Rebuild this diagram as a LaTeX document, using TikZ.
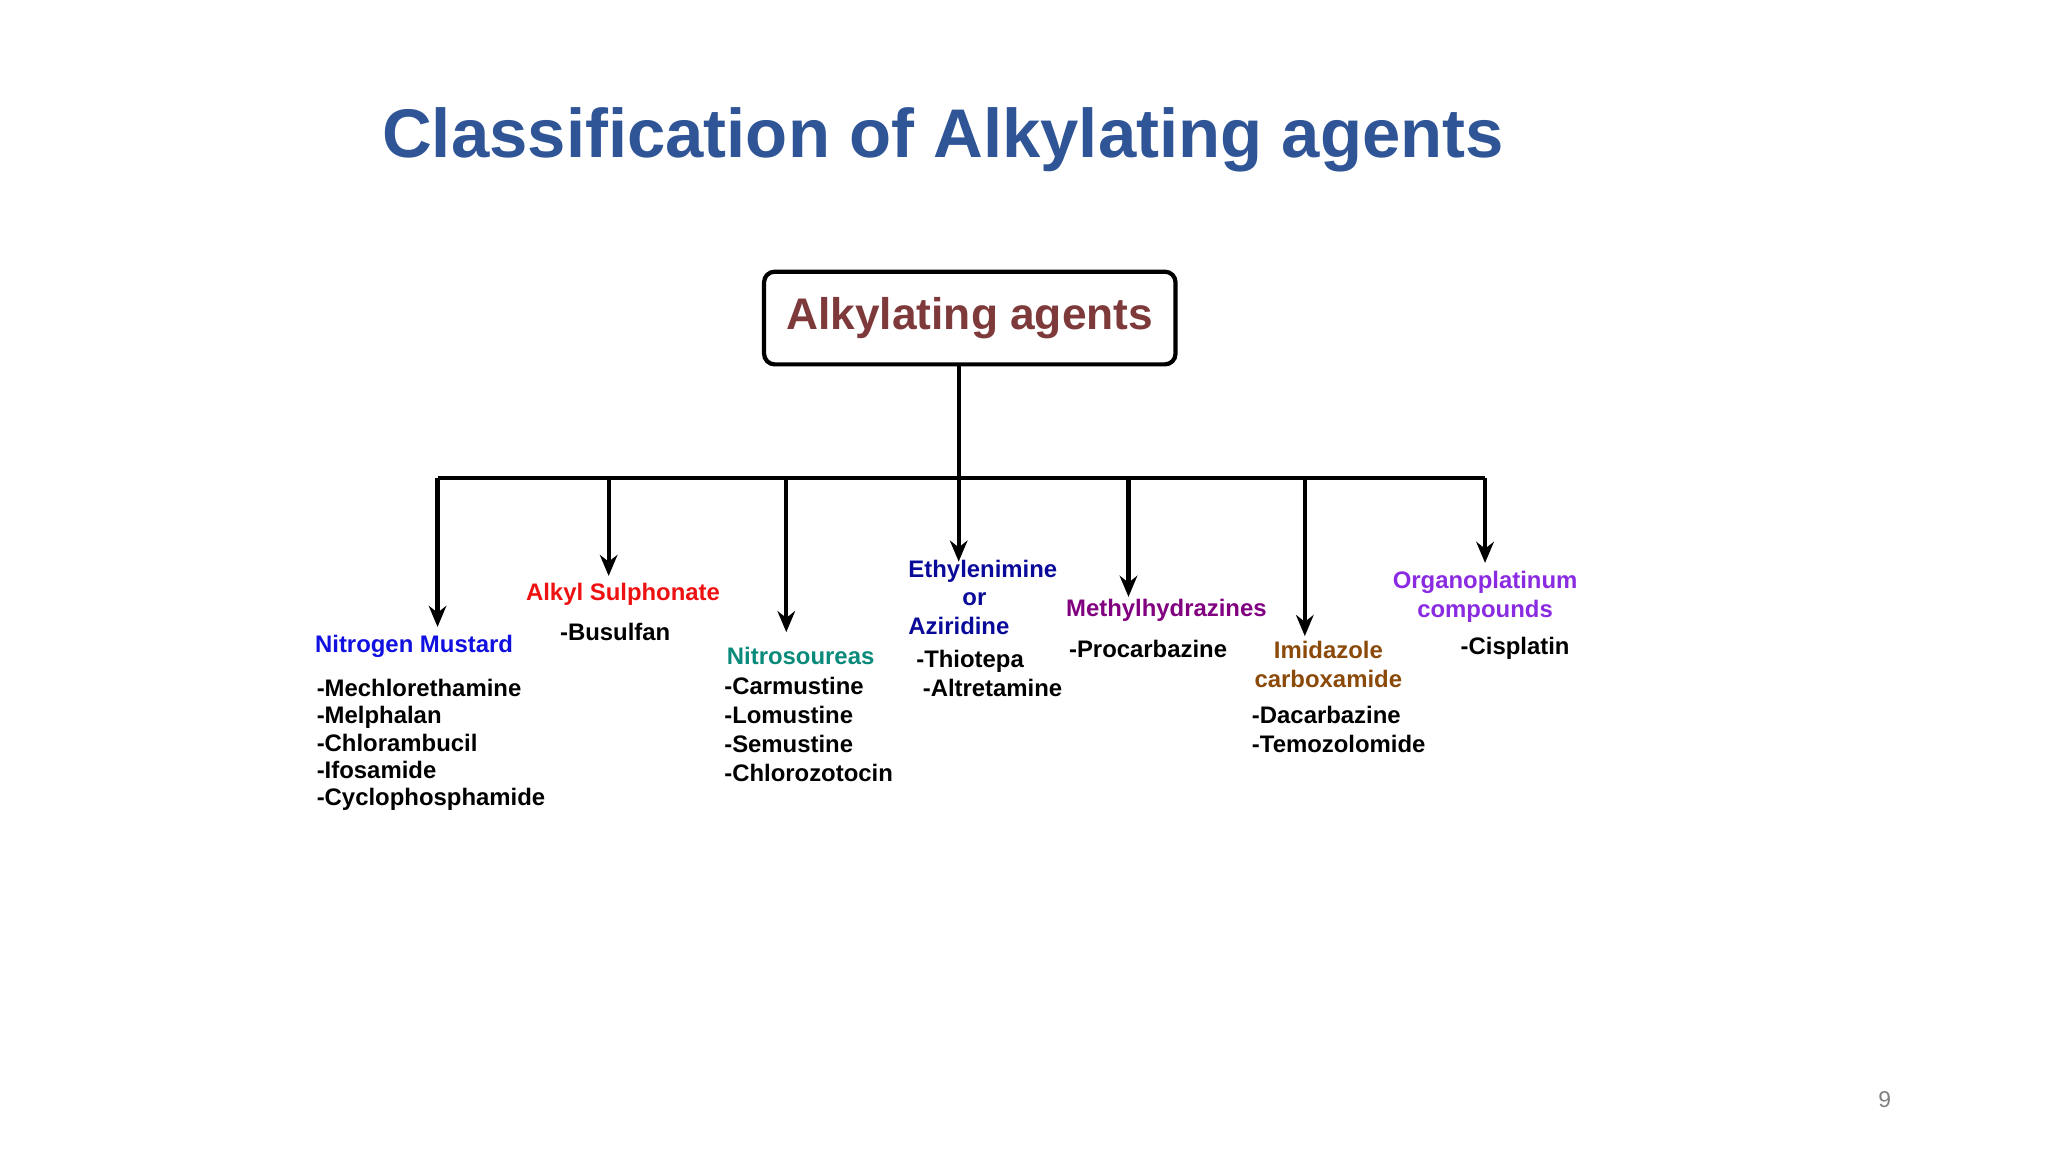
\documentclass[tikz,border=0pt]{standalone}
\usepackage{fontspec}
\setmainfont{Liberation Sans}
\usetikzlibrary{arrows.meta}
\definecolor{titleblue}{HTML}{2F5597}
\definecolor{boxtxt}{HTML}{7E3A3A}
\definecolor{nmblue}{HTML}{1010E0}
\definecolor{asred}{HTML}{EE1111}
\definecolor{nteal}{HTML}{0A8A7A}
\definecolor{enavy}{HTML}{0A0A9A}
\definecolor{mpurple}{HTML}{800080}
\definecolor{ibrown}{HTML}{8B4A0A}
\definecolor{oviolet}{HTML}{8A2BE2}
\begin{document}
\begin{tikzpicture}[x=0.013061cm,y=-0.013061cm,
  cat/.style={font=\fontsize{6.8}{8.2}\selectfont\bfseries,inner sep=0pt,align=center},
  item/.style={font=\fontsize{6.8}{8.2}\selectfont\bfseries,inner sep=0pt,anchor=base west},
  conn/.style={line width=1.2pt},
  arr/.style={line width=1.2pt,-{Stealth[length=6pt,width=5pt]}}]
\useasboundingbox (0,0) rectangle (1568,882);
\node[font=\fontsize{19.6}{24}\selectfont\bfseries,text=titleblue,inner sep=0pt] (title) at (722,107) {Classification of Alkylating agents};
\node[draw,line width=1.2pt,rounded corners=3pt,minimum width=4.114cm,minimum height=0.927cm,inner sep=0pt,
  text=boxtxt,font=\fontsize{12.6}{15}\selectfont\bfseries] (root) at (742.5,243.5)
  {Alkylating agents};
\coordinate (j) at (734,366);
\coordinate (l) at (335,366);
\coordinate (r) at (1137,366);
\draw[conn] (root.south -| j) -- (j);
\draw[conn] (l) -- (r);
\foreach \x/\y/\n in {335/480/a,466/441/b,602/484/c,734/430/d,864/457/e,999/487/f,1137/431/g}{
  \coordinate (t\n) at (\x,366); \coordinate (e\n) at (\x,\y);
  \draw[arr] (t\n) -- (e\n);}
% categories
\node[cat,text=nmblue] (nm) at (317,495) {Nitrogen Mustard};
\foreach \t [count=\i from 0] in {Mechlorethamine,Melphalan,Chlorambucil,Ifosamide,Cyclophosphamide}
  \node[item] (nm\i) at (242,533+21*\i) {-\t};
\node[cat,text=asred] (as) at (477,455) {Alkyl Sulphonate};
\node[cat] (bu) at (471,484) {-Busulfan};
\node[cat,text=nteal] (ns) at (613,502) {Nitrosoureas};
\foreach \t [count=\i from 0] in {Carmustine,Lomustine,Semustine,Chlorozotocin}
  \node[item] (ns\i) at (554,532+22*\i) {-\t};
\node[item,text=enavy] (et) at (695,442) {Ethylenimine};
\node[cat,text=enavy] (or) at (746,459) {or};
\node[item,text=enavy] (az) at (695,486) {Aziridine};
\node[item] (th) at (701,511) {-Thiotepa};
\node[item] (al) at (706,533) {-Altretamine};
\node[cat,text=mpurple] (mh) at (893,467) {Methylhydrazines};
\node[cat] (pc) at (879,497) {-Procarbazine};
\node[cat,text=ibrown] (im) at (1017,509) {Imidazole\\carboxamide};
\node[item] (dc) at (958,554) {-Dacarbazine};
\node[item] (tm) at (958,576) {-Temozolomide};
\node[cat,text=oviolet] (op) at (1137,457) {Organoplatinum\\compounds};
\node[cat] (cp) at (1160,496) {-Cisplatin};
\node[font=\fontsize{6.5}{8}\selectfont,text=gray,inner sep=0pt] (pg) at (1443,842) {9};
\end{tikzpicture}
\end{document}
